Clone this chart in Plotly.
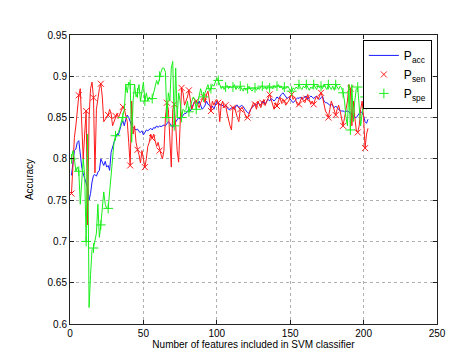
import plotly.graph_objects as go

n_features = list(range(1, 204))

p_acc = [
    0.780, 0.800, 0.810, 0.812, 0.820, 0.822, 0.805, 0.790, 0.782, 0.776,
    0.770, 0.765, 0.750, 0.758, 0.772, 0.780, 0.781, 0.779, 0.784, 0.786,
    0.800, 0.795, 0.792, 0.797, 0.790, 0.792, 0.786, 0.808, 0.815, 0.820,
    0.825, 0.830, 0.829, 0.836, 0.842, 0.846, 0.840, 0.848, 0.853, 0.850,
    0.845, 0.840, 0.838, 0.837, 0.835, 0.836, 0.833, 0.832, 0.834, 0.829,
    0.833, 0.835, 0.834, 0.836, 0.837, 0.835, 0.838, 0.837, 0.840, 0.838,
    0.840, 0.839, 0.840, 0.841, 0.840, 0.843, 0.845, 0.843, 0.840, 0.838,
    0.842, 0.845, 0.848, 0.850, 0.848, 0.850, 0.852, 0.855, 0.855, 0.857,
    0.860, 0.858, 0.862, 0.865, 0.870, 0.868, 0.866, 0.870, 0.865, 0.860,
    0.862, 0.865, 0.870, 0.866, 0.865, 0.862, 0.864, 0.860, 0.865, 0.870,
    0.868, 0.865, 0.866, 0.864, 0.863, 0.865, 0.862, 0.860, 0.860, 0.862,
    0.862, 0.860, 0.864, 0.865, 0.862, 0.864, 0.865, 0.863, 0.860, 0.858,
    0.856, 0.855, 0.860, 0.862, 0.865, 0.866, 0.865, 0.868, 0.866, 0.865,
    0.870, 0.868, 0.866, 0.870, 0.872, 0.870, 0.873, 0.872, 0.870, 0.872,
    0.875, 0.873, 0.876, 0.878, 0.880, 0.878, 0.875, 0.873, 0.875, 0.872,
    0.870, 0.868, 0.870, 0.872, 0.874, 0.873, 0.875, 0.872, 0.874, 0.875,
    0.876, 0.872, 0.874, 0.876, 0.875, 0.873, 0.875, 0.876, 0.874, 0.872,
    0.874, 0.876, 0.870, 0.868, 0.868, 0.866, 0.865, 0.866, 0.864, 0.862,
    0.864, 0.862, 0.860, 0.858, 0.858, 0.858, 0.857, 0.858, 0.858, 0.857,
    0.855, 0.855, 0.852, 0.850, 0.850, 0.853, 0.855, 0.857, 0.856, 0.852,
    0.845, 0.843, 0.848,
]

p_sen = [
    0.758, 0.800, 0.826, 0.840, 0.860, 0.877, 0.885, 0.830, 0.800, 0.830,
    0.858, 0.720, 0.850, 0.885, 0.893, 0.874, 0.783, 0.860, 0.875, 0.885,
    0.891, 0.875, 0.845, 0.848, 0.850, 0.853, 0.860, 0.855, 0.840, 0.845,
    0.852, 0.855, 0.850, 0.855, 0.860, 0.863, 0.860, 0.850, 0.845, 0.820,
    0.792, 0.870, 0.830, 0.840, 0.820, 0.811, 0.805, 0.795, 0.810, 0.800,
    0.790, 0.800, 0.815, 0.820, 0.830, 0.825, 0.830, 0.822, 0.815, 0.820,
    0.810, 0.805, 0.800, 0.810, 0.850, 0.868, 0.860, 0.830, 0.790, 0.860,
    0.866, 0.840, 0.810, 0.796, 0.850, 0.886, 0.880, 0.865, 0.870, 0.875,
    0.883, 0.870, 0.860, 0.865, 0.870, 0.870, 0.865, 0.862, 0.868, 0.872,
    0.875, 0.868, 0.878, 0.882, 0.870, 0.858, 0.870, 0.865, 0.870, 0.872,
    0.868, 0.845, 0.865, 0.870, 0.862, 0.865, 0.855, 0.845, 0.840, 0.835,
    0.862, 0.863, 0.855, 0.850, 0.845, 0.860, 0.862, 0.860, 0.855, 0.850,
    0.850, 0.855, 0.860, 0.865, 0.868, 0.866, 0.860, 0.870, 0.865, 0.862,
    0.868, 0.872, 0.865, 0.870, 0.875, 0.878, 0.872, 0.865, 0.860, 0.868,
    0.864, 0.870, 0.875, 0.868, 0.872, 0.870, 0.865, 0.868, 0.870, 0.875,
    0.878, 0.872, 0.875, 0.870, 0.865, 0.866, 0.872, 0.875, 0.870, 0.868,
    0.873, 0.878, 0.872, 0.866, 0.870, 0.866, 0.872, 0.876, 0.872, 0.876,
    0.880, 0.875, 0.865, 0.858, 0.855, 0.850, 0.860, 0.870, 0.865, 0.858,
    0.853, 0.860, 0.865, 0.858, 0.848, 0.840, 0.850, 0.860, 0.870, 0.890,
    0.885, 0.840, 0.870, 0.850, 0.835, 0.832, 0.840, 0.860, 0.870, 0.850,
    0.813, 0.830, 0.837,
]

p_spe = [
    0.800, 0.810, 0.800, 0.785, 0.790, 0.785, 0.745, 0.770, 0.800, 0.780,
    0.700, 0.830, 0.620, 0.660, 0.690, 0.692, 0.700, 0.710, 0.745, 0.705,
    0.720, 0.740, 0.760, 0.745, 0.740, 0.740, 0.760, 0.790, 0.810, 0.820,
    0.828, 0.830, 0.832, 0.838, 0.845, 0.850, 0.860, 0.890, 0.880, 0.893,
    0.890, 0.820, 0.870, 0.890, 0.875, 0.880, 0.890, 0.870, 0.880, 0.893,
    0.870, 0.880, 0.870, 0.875, 0.872, 0.873, 0.880, 0.890, 0.895, 0.890,
    0.900, 0.905, 0.910, 0.910, 0.905, 0.850, 0.880, 0.870, 0.910, 0.918,
    0.840, 0.910, 0.850, 0.880, 0.870, 0.850, 0.860, 0.858, 0.860, 0.870,
    0.857, 0.865, 0.870, 0.875, 0.872, 0.860, 0.870, 0.880, 0.885, 0.878,
    0.875, 0.880, 0.885, 0.890, 0.882, 0.885, 0.890, 0.888, 0.893, 0.898,
    0.895, 0.890, 0.885, 0.888, 0.884, 0.887, 0.889, 0.885, 0.888, 0.886,
    0.887, 0.890, 0.884, 0.887, 0.885, 0.888, 0.884, 0.882, 0.886, 0.883,
    0.885, 0.888, 0.884, 0.882, 0.885, 0.886, 0.883, 0.886, 0.884, 0.887,
    0.888, 0.885, 0.887, 0.884, 0.889, 0.886, 0.888, 0.885, 0.889, 0.886,
    0.888, 0.890, 0.886, 0.888, 0.884, 0.887, 0.885, 0.888, 0.886, 0.883,
    0.882, 0.886, 0.884, 0.887, 0.885, 0.890, 0.886, 0.884, 0.888, 0.886,
    0.890, 0.886, 0.883, 0.887, 0.885, 0.890, 0.887, 0.884, 0.889, 0.886,
    0.888, 0.885, 0.890, 0.886, 0.884, 0.890, 0.887, 0.884, 0.888, 0.883,
    0.890, 0.886, 0.884, 0.888, 0.886, 0.880, 0.870, 0.850, 0.840, 0.890,
    0.835, 0.890, 0.845, 0.870, 0.885, 0.887, 0.860, 0.840, 0.855, 0.865,
    0.875, 0.860, 0.870,
]

x_ticks = [0, 50, 100, 150, 200, 250]
y_ticks = [0.6, 0.65, 0.7, 0.75, 0.8, 0.85, 0.9, 0.95]
y_tick_labels = ["0.6", "0.65", "0.7", "0.75", "0.8", "0.85", "0.9", "0.95"]

BLUE = "#1a1aff"
RED = "#ff1a1a"
GREEN = "#1aef1a"

fig = go.Figure()

fig.add_trace(go.Scatter(
    x=n_features, y=p_acc, mode="lines",
    line=dict(color=BLUE, width=1), name="P<sub>acc</sub>",
))
fig.add_trace(go.Scatter(
    x=n_features, y=p_sen, mode="lines",
    line=dict(color=RED, width=1), showlegend=False,
))
fig.add_trace(go.Scatter(
    x=n_features[::5], y=p_sen[::5], mode="markers",
    marker=dict(symbol="x-thin", size=6, line=dict(color=RED, width=1), color=RED),
    name="P<sub>sen</sub>",
))
fig.add_trace(go.Scatter(
    x=n_features, y=p_spe, mode="lines",
    line=dict(color=GREEN, width=1), showlegend=False,
))
fig.add_trace(go.Scatter(
    x=n_features[::5], y=p_spe[::5], mode="markers",
    marker=dict(symbol="cross-thin", size=7, line=dict(color=GREEN, width=1), color=GREEN),
    name="P<sub>spe</sub>",
))

axis_common = dict(
    showline=True, linecolor="#222222", linewidth=1, mirror="allticks",
    ticks="inside", ticklen=4, tickcolor="#222222",
    showgrid=True, gridcolor="#b0b0b0", griddash="dot", gridwidth=1,
    zeroline=False, tickfont=dict(size=10, color="black"),
)

fig.update_xaxes(
    range=[0, 250], tickvals=x_ticks,
    title=dict(text="Number of features included in SVM classifier",
               font=dict(size=10, color="black"), standoff=0),
    **axis_common,
)
fig.update_yaxes(
    range=[0.6, 0.95], tickvals=y_ticks, ticktext=y_tick_labels,
    title=dict(text="Accuracy", font=dict(size=10, color="black"), standoff=12),
    **axis_common,
)

fig.update_layout(
    width=474, height=356,
    margin=dict(l=62, r=45, t=27, b=40),
    paper_bgcolor="white", plot_bgcolor="white",
    font=dict(family="Liberation Sans, Arial, sans-serif", size=10, color="black"),
    legend=dict(
        x=0.986, y=0.983, xanchor="right", yanchor="top",
        bgcolor="white", bordercolor="black", borderwidth=1,
        font=dict(size=12, color="black"),
        tracegroupgap=0, itemwidth=30,
    ),
)

fig.write_html("out.html")
